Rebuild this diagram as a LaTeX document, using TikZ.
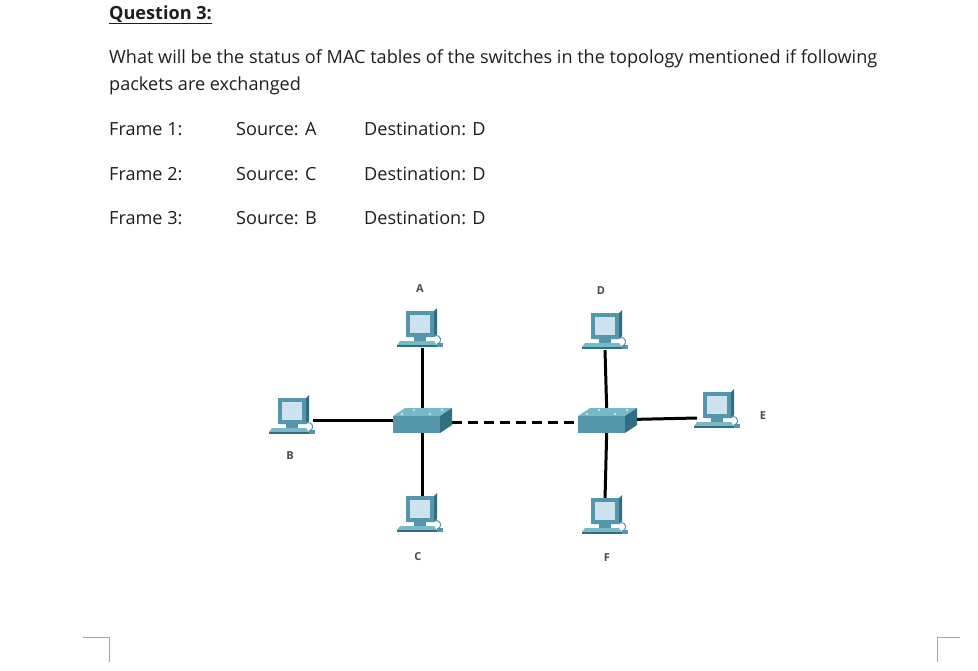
\documentclass[tikz,border=0pt]{standalone}
\usepackage{fontspec}
\setmainfont{Open Sans}
\definecolor{tealA}{RGB}{84,150,170}
\definecolor{tealD}{RGB}{50,110,130}
\definecolor{tealL}{RGB}{120,185,200}
\definecolor{scr}{RGB}{205,225,238}
\definecolor{txt}{RGB}{30,30,30}
\tikzset{
  txtnode/.style={anchor=base west,inner sep=0pt,font=\fontsize{18.1}{21}\selectfont,text=txt},
  lbl/.style={inner sep=0pt,font=\fontsize{11}{12}\selectfont\bfseries,text=txt!80},
  link/.style={line width=3pt,black},
  pc/.pic={
    \fill[tealD] (-12,-21) -- (14,-21) -- (17,-24) -- (17,2) -- (14,5) -- (-12,5) -- cycle;
    \fill[tealA] (-14,-21) rectangle (14,5);
    \fill[scr] (-10,-17) rectangle (10,1);
    \fill[tealA] (-6,5) rectangle (6,9);
    \fill[tealL] (-20,9) -- (14,9) -- (17,13) -- (-23,13) -- cycle;
    \fill[tealD] (-23,13) rectangle (17,15);
    \draw[tealA,line width=1pt] (14,4) .. controls (22,2) and (22,10) .. (18,12);
    \fill[tealA] (17,11) rectangle (23,15);
  },
  sw/.pic={
    \fill[tealL] (-29,-4) -- (-17,-12) -- (30,-12) -- (18,-4) -- cycle;
    \fill[tealA] (-29,-4) rectangle (18,13);
    \fill[tealD] (18,-4) -- (30,-12) -- (30,5) -- (18,13) -- cycle;
    \fill[white!80!tealL] (-20,-6) circle (1.2) (-8,-10) circle (1.2) (8,-6) circle (1.2) (20,-10) circle (1.2);
  }
}
\begin{document}
\begin{tikzpicture}[x=1pt,y=-1pt]
\useasboundingbox (0,0) rectangle (978,670);
\fill[white] (0,0) rectangle (978,670);
\node[txtnode] (q) at (109,19) {\underline{\textbf{Question 3:}}};
\node[txtnode] (p1) at (109,63) {What will be the status of MAC tables of the switches in the topology mentioned if following};
\node[txtnode] (p2) at (109,90) {packets are exchanged};
\node[txtnode] (f1) at (109,135) {Frame 1:};
\node[txtnode] (s1) at (236,135) {Source: A};
\node[txtnode] (d1) at (364,135) {Destination: D};
\node[txtnode] (f2) at (109,180) {Frame 2:};
\node[txtnode] (s2) at (236,180) {Source: C};
\node[txtnode] (d2) at (364,180) {Destination: D};
\node[txtnode] (f3) at (109,224) {Frame 3:};
\node[txtnode] (s3) at (236,224) {Source: B};
\node[txtnode] (d3) at (364,224) {Destination: D};
% links
\coordinate (sw1) at (422,420);
\coordinate (sw2) at (607,420);
\coordinate (ea) at (422,348);
\coordinate (ec) at (422,498);
\coordinate (ed) at (605,350);
\coordinate (ef) at (605,500);
\coordinate (eb) at (313,420);
\coordinate (ee) at (697,418);
\coordinate (dl) at (452,422);
\coordinate (dr) at (578,422);
\draw[link] (ea) -- (sw1);
\draw[link] (sw1) -- (ec);
\draw[link] (ed) -- (sw2);
\draw[link] (sw2) -- (ef);
\draw[link] (eb) -- (sw1);
\draw[link] (sw2) -- (ee);
\draw[link,dash pattern=on 10pt off 6pt] (dl) -- (dr);
\pic at (sw1) {sw};
\pic at (sw2) {sw};
\pic at (420,332) {pc};
\pic at (605,334) {pc};
\pic at (292,419) {pc};
\pic at (717,413) {pc};
\pic at (420,517) {pc};
\pic at (605,519) {pc};
\node[lbl] (la) at (420,289) {A};
\node[lbl] (ld) at (601,291) {D};
\node[lbl] (lb) at (290,456) {B};
\node[lbl] (le) at (763,416) {E};
\node[lbl] (lc) at (418,557) {C};
\node[lbl] (lf) at (607,558) {F};
% corner marks
\draw[gray!70,line width=1pt] (83,637) -- (109,637) -- (109,662);
\draw[gray!70,line width=1pt] (960,637) -- (937,637) -- (937,662);
\end{tikzpicture}
\end{document}
